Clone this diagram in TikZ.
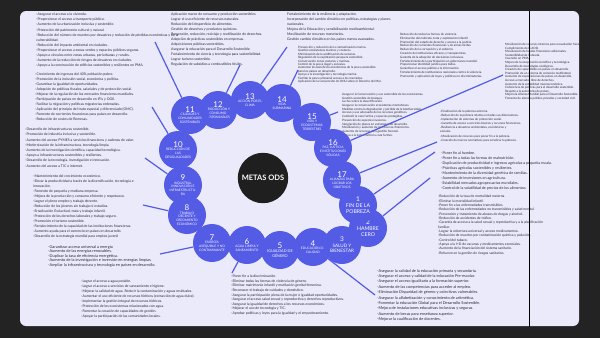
\documentclass[tikz,border=0pt]{standalone}
\usepackage{fontspec}
\setmainfont{Lato}
\usetikzlibrary{positioning}
\definecolor{bgdark}{RGB}{35,35,35}
\definecolor{cardbg}{RGB}{234,234,250}
\definecolor{odsblue}{RGB}{84,92,230}
\definecolor{itemtxt}{RGB}{40,40,52}
\tikzset{
  goal/.style={circle, fill=odsblue, minimum size=38pt, inner sep=0pt,
               text=white, align=center, font=\fontsize{3.2}{3.8}\selectfont},
  goalbig/.style={goal, font=\fontsize{5.2}{6}\selectfont},
  items/.style 2 args={anchor=north west, inner sep=0pt, align=left,
               text=itemtxt, font=\fontsize{#1}{#2}\selectfont},
  link/.style={draw=odsblue, line width=1.2pt}
}
\newcommand{\gnum}[1]{{\fontsize{8}{8}\selectfont #1}}
\newcommand{\gnumsmall}[1]{{\fontsize{6.5}{7}\selectfont #1}}

\begin{document}
\begin{tikzpicture}[x=1pt, y=-1pt]
  \useasboundingbox (0,0) rectangle (600,338);
  \fill[bgdark] (0,0) rectangle (600,338);
  \fill[cardbg, rounded corners=6pt] (20,11) rectangle (579,326);

  % listas de metas
  \node[items={3.5}{5.1}] (t11) at (36,13) {%
    -Asegurar el acceso a la vivienda.\\
    -Proporcionar el acceso a transporte público.\\
    -Aumento de la urbanización inclusiva y sostenible.\\
    -Protección del patrimonio cultural y natural.\\
    -Reducción del número de muertes por desastres y reducción de pérdidas económicas y de la\\
    vulnerabilidad.\\
    -Reducción del impacto ambiental en ciudades.\\
    -Proporcionar el acceso a zonas verdes y espacios públicos seguros.\\
    -Apoyo a vínculos entre zonas urbanas, periurbanas y rurales.\\
    -Aumento de la reducción de riesgos de desastres en ciudades.\\
    -Apoyo a la construcción de edificios sostenibles y resilientes en PMA.};
  \node[items={3.5}{5}] (t10) at (35,73) {%
    -Crecimiento de ingresos del 40\% población pobre.\\
    -Promoción de la inclusión social, económica y política.\\
    -Garantizar la igualdad de oportunidades.\\
    -Adopción de políticas fiscales, salariales y de protección social.\\
    -Mejorar de la regulación de los mercados financieros mundiales.\\
    -Participación de países en desarrollo en IFIs y OOII.\\
    -Facilitar la migración y políticas migratorias ordenadas.\\
    -Aplicación del principio del trato especial y diferenciado (OMC).\\
    -Fomento de corrientes financieras para países en desarrollo.\\
    -Reducción de costes de Remesas.};
  \node[items={3.5}{5.2}] (t9) at (25,128) {%
    -Desarrollo de infraestructuras sostenible.\\
    -Promoción de industria inclusiva y sostenible.\\
    -Aumento del acceso PYMES a servicios financieros y cadenas de valor.\\
    -Modernización de la infraestructura, tecnología limpia.\\
    -Aumento de la investigación científica, capacidad tecnológica.\\
    -Apoyo a infraestructuras sostenibles y resilientes.\\
    -Desarrollo de la tecnología, investigación e innovación.\\
    -Aumento del acceso a TIC e internet.};
  \node[items={3.5}{5}] (t8) at (33,175) {%
    -Mantenimiento del crecimiento económico.\\
    -Elevar la productividad a través de la diversificación, tecnología e\\
    innovación.\\
    -Fomento de pequeña y mediana empresa.\\
    -Mejora de la producción y consumo eficiente y respetuoso.\\
    -Lograr el pleno empleo y trabajo decente.\\
    -Reducción de los jóvenes sin trabajo ni estudios.\\
    -Erradicación Esclavitud, trata y trabajo infantil.\\
    -Protección de los derechos laborales y trabajo seguro.\\
    -Promoción el turismo sostenible.\\
    -Fortalecimiento de la capacidad de las instituciones financieras.\\
    -Aumento ayuda para el comercio en países en desarrollo.\\
    -Desarrollo de la estrategia mundial para empleo juvenil};
  \node[items={3.9}{4.6}] (t7) at (48,245) {%
    -Garantizar acceso universal a energía\\
    -Aumento de las energías renovables.\\
    -Duplicar la tasa de eficiencia energética.\\
    -Aumento de la investigación e inversión en energías limpias.\\
    -Ampliar la infraestructura y tecnología en países en desarrollo.};
  \node[items={3.5}{5}] (t6) at (81,280) {%
    -Lograr el acceso a agua potable.\\
    -Lograr el acceso a servicios de saneamiento e higiene.\\
    -Mejorar la calidad de agua. Reducir la contaminación y aguas residuales.\\
    -Aumentar el uso eficiente de recursos hídricos (extracción de agua dulce).\\
    -Implementar la gestión integral de recursos hídricos.\\
    -Protección de los ecosistemas relacionados con agua.\\
    -Fomentar la creación de capacidades de gestión.\\
    -Apoyar la participación de las comunidades locales.};
  \node[items={3.5}{4.6}] (t5) at (231,275) {%
    -Poner fin a la discriminación.\\
    -Eliminar todas las formas de violencia de género.\\
    -Eliminar matrimonio infantil y mutilación genital femenina.\\
    -Reconocer el trabajo de cuidados y doméstico.\\
    -Asegurar la participación plena de la mujer e igualdad oportunidades.\\
    -Asegurar el acceso salud sexual y reproductiva y derechos reproductivos.\\
    -Asegurar la igualdad de derechos a los recursos económicos.\\
    -Mejorar el uso de tecnología y TIC.\\
    -Aprobar políticas y leyes para la igualdad y el empoderamiento.};
  \node[items={3.9}{5.4}] (t4) at (377,269) {%
    -Asegurar la calidad de la educación primaria y secundaria.\\
    -Asegurar el acceso y calidad de la educación Pre-escolar.\\
    -Asegurar el acceso igualitario a la formación superior.\\
    -Aumento de las competencias para acceder al empleo.\\
    -Eliminación Disparidad de género y colectivos vulnerables.\\
    -Asegurar la alfabetización y conocimiento de aritmética.\\
    -Fomentar la educación Global para el Desarrollo Sostenible.\\
    -Mejora de instalaciones educativas inclusivas y seguras.\\
    -Aumento de becas para enseñanza superior.\\
    -Mejorar la cualificación de docentes.};
  \node[items={3.4}{4.35}] (t3) at (438,195) {%
    -Reducción de la tasa de mortalidad materna.\\
    -Eliminar la mortalidad infantil.\\
    -Poner fin a las enfermedades transmisibles.\\
    -Reducción de las enfermedades no transmisibles y salud mental.\\
    -Prevención y tratamiento de abusos de drogas y alcohol.\\
    -Reducción de accidentes de tráfico.\\
    -Garantía de acceso a la salud sexual y reproductiva y a la planificación\\
    familiar.\\
    -Lograr la cobertura universal y acceso medicamentos.\\
    -Reducción de muertes por contaminación química y polución.\\
    -Control del tabaco.\\
    -Apoyo a la I+D de vacunas y medicamentos esenciales.\\
    -Aumento de la financiación del sistema sanitario.\\
    -Refuerzo en la gestión de riesgos sanitarios.};
  \node[items={3.7}{4.9}] (t2) at (441,152) {%
    -Poner fin al hambre.\\
    -Poner fin a todas las formas de malnutrición.\\
    -Duplicación de productividad e ingresos agrícolas a pequeña escala.\\
    -Prácticas agrícolas sostenibles y resilientes.\\
    -Mantenimiento de la diversidad genética de semillas.\\
    -Aumento de inversiones en agricultura.\\
    -Estabilidad mercados agropecuarios mundiales.\\
    -Control de la volatilidad de precios de los alimentos.};
  \node[items={3}{4.1}] (t1) at (440,110) {%
    -Erradicación de la pobreza extrema.\\
    -Reducción de la pobreza relativa en todas sus dimensiones.\\
    -Implantación de sistemas de protección social.\\
    -Garantía de acceso a servicios básicos y recursos financieros.\\
    -Resiliencia a desastres ambientales, económicos y\\
    sociales.\\
    -Movilización de recursos para poner fin a la pobreza.\\
    -Creación de marcos normativos para erradicar la pobreza.};
  \node[items={3.5}{5}] (t12) at (171,13) {%
    Aplicación marco de consumo y producción sostenibles.\\
    Lograr el uso eficiente de recursos naturales.\\
    Reducción del desperdicio de alimentos.\\
    Gestión de desechos y productos químicos.\\
    Prevención, reducción, reciclaje y reutilización de desechos.\\
    Adopción de prácticas sostenibles en empresas.\\
    Adquisiciones públicas sostenibles.\\
    Asegurar la educación para el Desarrollo Sostenible.\\
    Fortalecimiento de ciencia y tecnología para sostenibilidad.\\
    Lograr turismo sostenible.\\
    Regulación de subsidios a combustibles fósiles.};
  \node[items={3.5}{5}] (t13) at (287,13) {%
    Fortalecimiento de la resiliencia y adaptación.\\
    Incorporación del cambio climático en políticas, estrategias y planes\\
    nacionales.\\
    Mejora de la Educación y sensibilización medioambiental.\\
    Movilización de recursos monetarios.\\
    Gestión cambio climático en los países menos avanzados.};
  \node[items={3}{3.4}] (t14) at (298,46) {%
    Prevención y reducción de la contaminación marina.\\
    Gestión ecosistemas marinos y costeros.\\
    Minimización de la acidificación de océanos.\\
    Regulación de la explotación pesquera sostenible.\\
    Conservación zonas costeras y marinas.\\
    Control de la pesca ilegal y excesiva.\\
    Aumentar los beneficios económicos de la pesca sostenible\\
    para los países en desarrollo.\\
    Apoyo a la investigación y tecnología marina.\\
    Facilitar la pesca artesanal acceso a los mercados.\\
    Aplicación de la Convención de ONU sobre el Derecho del Mar.};
  \node[items={3}{3.7}] (t15) at (342,93) {%
    Asegurar la Conservación y uso sostenible de los ecosistemas.\\
    Gestión sostenible de bosques.\\
    Lucha contra la desertificación.\\
    Asegurar la conservación ecosistemas montañosos.\\
    Medidas contra la degradación y pérdida de la biodiversidad.\\
    Acceso y uso adecuado de los recursos genéticos.\\
    Combatir la caza furtiva y especies protegidas.\\
    Prevención de especies invasoras.\\
    Integración de planes en estrategias de desarrollo.\\
    Movilización y aumento de los recursos financieros.\\
    Aumento de recursos para gestión forestal.\\
    Apoyo a la lucha contra la caza furtiva.};
  \node[items={3}{3.8}] (t16) at (400,33) {%
    Reducción de todas las formas de violencia.\\
    Eliminación del maltrato, trata y explotación infantil.\\
    Promoción del estado de derecho y acceso a la justicia.\\
    Reducción de corrientes financieras y de armas ilícitas.\\
    Reducción de la corrupción y el soborno.\\
    Creación de instituciones eficaces y transparentes.\\
    Garantía de la adopción de decisiones inclusivas.\\
    Fortalecimiento de la participación en gobernanza mundial.\\
    Proporcionar identidad jurídica para todos.\\
    Garantizar el acceso público a la información.\\
    Fortalecimiento de instituciones nacionales contra la violencia.\\
    Promoción y aplicación de leyes y políticas no discriminatorias.};
  \node[items={3}{3.6}] (t17) at (505,43) {%
    Movilización de recursos internos para recaudación fiscal.\\
    Cumplimiento de la AOD.\\
    Movilización de fondos financieros adicionales.\\
    Sostenibilidad de la deuda.\\
    Inversión en PMA.\\
    Mejora de la cooperación científica y tecnológica.\\
    Desarrollo de tecnologías ecológicas.\\
    Creación de capacidades en países en desarrollo.\\
    Promoción de un sistema de comercio multilateral.\\
    Aumento de exportaciones de países en desarrollo.\\
    Acceso a mercados libre de derechos.\\
    Aumento de la estabilidad macroeconómica.\\
    Coherencia de políticas para el desarrollo sostenible.\\
    Respeto a la autonomía de países.\\
    Mejora la Alianza Mundial para el Desarrollo Sostenible.\\
    Fomento de alianzas público-privadas y sociedad civil.};

  % circulos de los objetivos
  \node[goal] (g10) at (178,150) {\gnum{10}\\REDUCCIÓN DE\\LAS\\DESIGUALDADES};
  \node[goal] (g9)  at (183,185) {\gnum{9}\\INDUSTRIA,\\INNOVACIÓN E\\INFRAESTRUCTU-\\RA};
  \node[goal] (g8)  at (187,215) {\gnum{8}\\TRABAJO\\DECENTE Y\\CRECIMIENTO\\ECONÓMICO};
  \node[goal] (g7)  at (212,243) {\gnum{7}\\ENERGÍA\\ASEQUIBLE Y NO\\CONTAMINANTE};
  \node[goal] (g6)  at (247,245) {\gnum{6}\\AGUA LIMPIA Y\\SANEAMIENTO};
  \node[goal, font=\fontsize{3.8}{4.6}\selectfont] (g5) at (280,250) {\gnum{5}\\IGUALDAD DE\\GÉNERO};
  \node[goal] (g4)  at (313,247) {\gnum{4}\\EDUCACIÓN DE\\CALIDAD};
  \node[goalbig, font=\fontsize{4.6}{5.4}\selectfont] (g3) at (342,245) {\gnumsmall{3}\\SALUD Y\\BIENESTAR};
  \node[goalbig] (g2)  at (368,228) {\gnumsmall{2}\\HAMBRE\\CERO};
  \node[goalbig] (g1)  at (358,205) {\gnumsmall{1}\\FIN DE LA\\POBREZA};
  \node[goal] (g17) at (342,180) {\gnum{17}\\ALIANZAS PARA\\LOGRAR LOS\\OBJETIVOS};
  \node[goal] (g16) at (333,148) {\gnum{16}\\PAZ, JUSTICIA\\E INSTITUCIONES\\SÓLIDAS};
  \node[goal] (g15) at (312,122) {\gnum{15}\\VIDA Y\\ECOSISTEMAS\\TERRESTRES};
  \node[goal] (g14) at (282,103) {\gnum{14}\\VIDA\\SUBMARINA};
  \node[goal] (g13) at (250,100) {\gnum{13}\\ACCIÓN POR EL\\CLIMA};
  \node[goal] (g12) at (218,110) {\gnum{12}\\PRODUCCIÓN Y\\CONSUMO\\RESPONSABLES};
  \node[goal] (g11) at (190,115) {\gnum{11}\\CIUDADES Y\\COMUNIDADES\\SOSTENIBLES};

  \node[circle, fill=black!88, minimum size=48pt, text=white,
        font=\fontsize{7.5}{8}\selectfont\bfseries] (metas) at (263,178) {METAS ODS};

  % extremos libres de los conectores
  \coordinate (e11) at (155,42);
  \coordinate (e10) at (152,107);
  \coordinate (e9)  at (145,158);
  \coordinate (e8)  at (143,205);
  \coordinate (e7)  at (160,254);
  \coordinate (e6)  at (232,273);
  \coordinate (e4)  at (375,295);
  \coordinate (e12) at (240,65);
  \coordinate (e13) at (287,47);
  \coordinate (e14) at (298,70);
  \coordinate (e15) at (338,112);
  \coordinate (e16) at (503,75);
  \coordinate (e17) at (437,142);
  \coordinate (e1)  at (435,152);
  \coordinate (e2)  at (430,178);

  \draw[link] (e11) -- (g11);
  \draw[link] (e10) -- (g10);
  \draw[link] (e9)  -- (g9);
  \draw[link] (e8)  -- (g8);
  \draw[link] (e7)  -- (g7);
  \draw[link] (e6)  -- (g6);
  \draw[link] (g4)  -- (e4);
  \draw[link] (e12) -- (g12);
  \draw[link] (e13) -- (g13);
  \draw[link] (e14) -- (g14);
  \draw[link] (g15) -- (e15);
  \draw[link] (g16) -- (e16);
  \draw[link] (g17) -- (e17);
  \draw[link] (g1)  -- (e1);
  \draw[link] (g2)  -- (e2);

  \draw[black, line width=0.8pt] (529,11) -- (529,327);
\end{tikzpicture}
\end{document}
